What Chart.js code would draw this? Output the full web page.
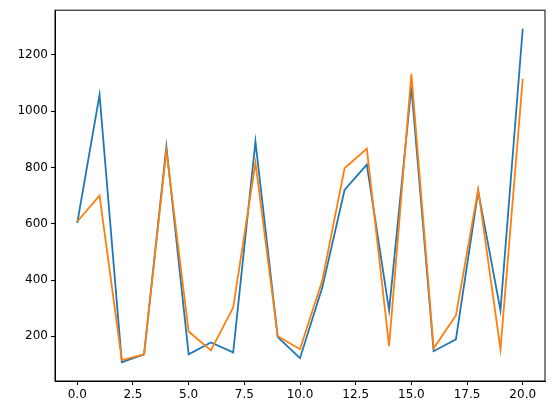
<!DOCTYPE html>
<html>
<head>
<meta charset="utf-8">
<script src="https://cdn.jsdelivr.net/npm/chart.js@4"></script>
<style>
  html, body { margin: 0; padding: 0; background: #fff; }
  #wrap { width: 560px; height: 413px; }
</style>
</head>
<body>
<div id="wrap"><canvas id="grafica"></canvas></div>
<script>
const xValores = [0,1,2,3,4,5,6,7,8,9,10,11,12,13,14,15,16,17,18,19,20];
const serieAzul = [603,1058,108,136,875,136,178,143,892,197,122,373,720,810,292,1087,147,189,716,292,1293];
const serieNaranja = [608,700,115,136,860,217,150,302,817,200,154,398,797,867,165,1133,157,274,722,154,1115];
const ticksY = [200,400,600,800,1000,1200];
const ticksX = [0,2.5,5,7.5,10,12.5,15,17.5,20];

const marco = {
    id: 'marco',
    afterDraw(chart) {
        const { ctx, chartArea: a } = chart;
        ctx.save();
        ctx.strokeStyle = '#000';
        ctx.lineWidth = 1;
        ctx.strokeRect(a.left, a.top, a.right - a.left, a.bottom - a.top);
        ctx.restore();
    }
};

const aPuntos = vals => vals.map((v, i) => ({ x: xValores[i], y: v }));

new Chart(document.getElementById('grafica'), {
    type: 'line',
    data: {
        datasets: [
            { data: aPuntos(serieAzul), borderColor: '#1f77b4', borderWidth: 1.8, pointRadius: 0, tension: 0, order: 2 },
            { data: aPuntos(serieNaranja), borderColor: '#ff7f0e', borderWidth: 1.8, pointRadius: 0, tension: 0, order: 1 }
        ]
    },
    options: {
        responsive: true, maintainAspectRatio: false, animation: false,
        layout: { padding: { top: 8, right: 15, left: 0, bottom: 0 } },
        plugins: { legend: { display: false }, tooltip: { enabled: false } },
        scales: {
            x: {
                type: 'linear', min: -1, max: 21,
                afterBuildTicks: s => { s.ticks = ticksX.map(v => ({ value: v })); },
                afterFit: s => { s.height = 32; },
                grid: { drawOnChartArea: false, tickLength: 4, color: '#000' },
                border: { color: '#000' },
                ticks: { color: '#000', font: { family: 'DejaVu Sans', size: 12 }, maxRotation: 0,
                         callback: v => Number.isInteger(v) ? v.toFixed(1) : String(v) }
            },
            y: {
                min: 41, max: 1359,
                afterBuildTicks: s => { s.ticks = ticksY.map(v => ({ value: v })); },
                afterFit: s => { s.width = 55; },
                grid: { drawOnChartArea: false, tickLength: 4, color: '#000' },
                border: { color: '#000' },
                ticks: { color: '#000', font: { family: 'DejaVu Sans', size: 12 }, callback: v => String(v) }
            }
        }
    },
    plugins: [marco]
});
</script>
</body>
</html>
